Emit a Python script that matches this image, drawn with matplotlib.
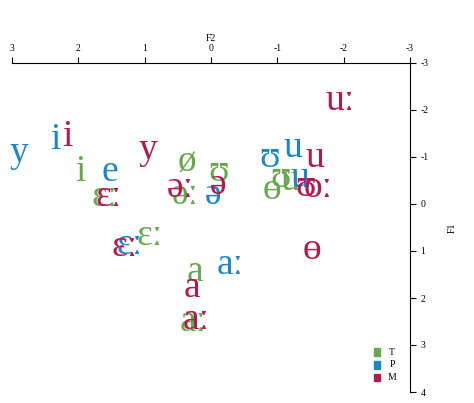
import matplotlib
matplotlib.use('Agg')
import matplotlib.pyplot as plt
from matplotlib.patches import Rectangle

# Vowel positions (z-scored F2, F1) per speaker group.
groups = ['T', 'P', 'M']
colors = {'T': '#6aa84f', 'P': '#1b87c9', 'M': '#b5174f'}

t_labels = ['i', 'ɛː', 'ø', 'əː', 'ʊ', 'ɛː', 'a', 'aː', 'u', 'ɵ', 'ʊ']
t_f2 = [1.97, 1.60, 0.36, 0.39, -0.12, 0.92, 0.24, 0.27, -1.19, -0.92, -1.05]
t_f1 = [-0.68, -0.15, -0.90, -0.20, -0.68, 0.68, 1.45, 2.50, -0.50, -0.30, -0.55]

p_labels = ['y', 'i', 'e', 'ə', 'ɛː', 'aː', 'ʊ', 'u', 'u']
p_f2 = [2.90, 2.35, 1.52, -0.03, 1.22, -0.29, -0.89, -1.23, -1.34]
p_f1 = [-1.10, -1.36, -0.68, -0.20, 0.87, 1.30, -0.98, -1.19, -0.55]

m_labels = ['i', 'ɛː', 'y', 'əː', 'ə', 'ɛː', 'a', 'aː', 'uː', 'u', 'ʊ', 'oː', 'ɵ']
m_f2 = [2.17, 1.55, 0.95, 0.47, -0.10, 1.30, 0.29, 0.23, -1.94, -1.57, -1.42, -1.61, -1.52]
m_f1 = [-1.43, -0.15, -1.15, -0.34, -0.40, 0.92, 1.79, 2.47, -2.20, -0.98, -0.36, -0.34, 0.98]

data = {'T': (t_labels, t_f2, t_f1), 'P': (p_labels, p_f2, p_f1), 'M': (m_labels, m_f2, m_f1)}

plt.rcParams['font.family'] = ['Liberation Serif', 'DejaVu Serif']
plt.rcParams['axes.unicode_minus'] = False

fig = plt.figure(figsize=(4.74, 4.03), dpi=100)
ax = fig.add_axes((12 / 474, 11 / 403, 398 / 474, 329 / 403))

for g in groups:
    labels, f2, f1 = data[g]
    for s, x, y in zip(labels, f2, f1):
        ax.text(x, y, s, color=colors[g], fontsize=27, ha='center', va='center')

ax.set_xlim(3, -3)
ax.set_ylim(4, -3)
ax.xaxis.tick_top()
ax.xaxis.set_label_position('top')
ax.yaxis.tick_right()
ax.yaxis.set_label_position('right')
ax.spines['left'].set_visible(False)
ax.spines['bottom'].set_visible(False)
ax.tick_params(labelsize=7, length=4, width=0.8)
ax.set_xticks(range(3, -4, -1))
ax.set_yticks(range(-3, 5))
ax.set_xlabel('F2', fontsize=7, labelpad=2)
ax.set_ylabel('F1', fontsize=7, rotation=90, labelpad=14)

# Legend.
for i, g in enumerate(groups):
    y = 3.15 + i * 0.27
    ax.add_patch(Rectangle((-2.55, y - 0.08), 0.1, 0.16, color=colors[g], clip_on=False))
    ax.text(-2.73, y, g, fontsize=7, va='center', ha='center')

fig.savefig('out.png', dpi=100)
